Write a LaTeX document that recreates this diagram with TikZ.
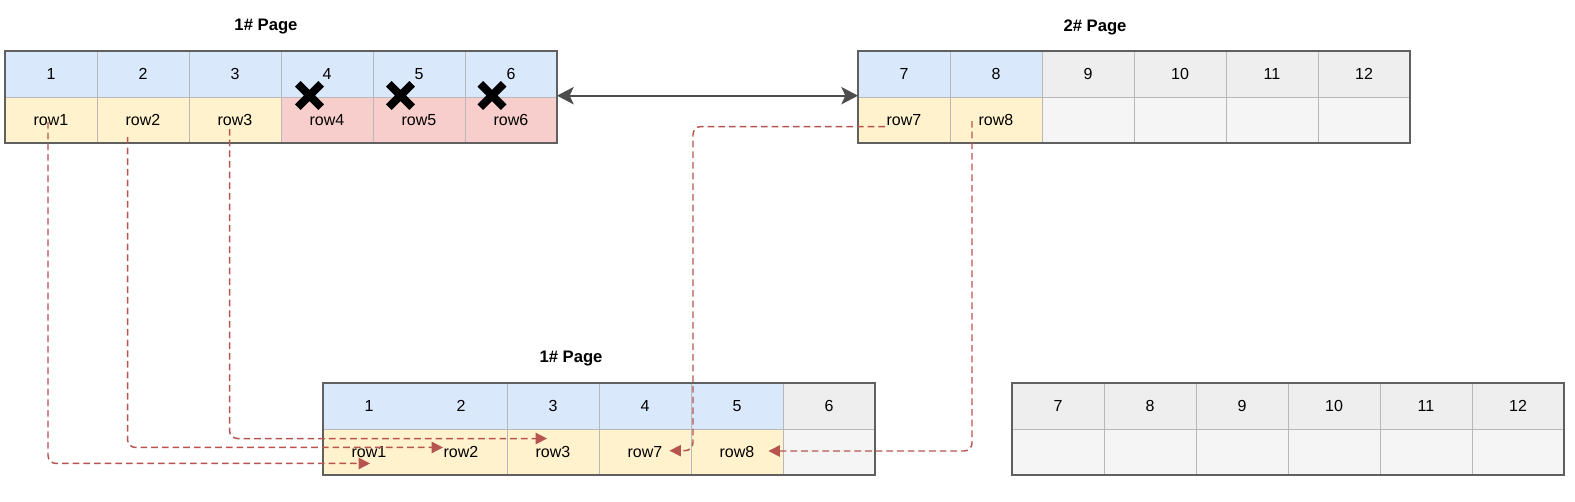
\documentclass[tikz,border=0pt]{standalone}
\usepackage{fontspec}
\setmainfont{Liberation Sans}
\usepackage{xcolor}
\usetikzlibrary{positioning,arrows.meta,shapes.misc}

\definecolor{hdrblue}{HTML}{DAE8FC}
\definecolor{rowyellow}{HTML}{FFF2CC}
\definecolor{rowred}{HTML}{F8CECC}
\definecolor{hdrgray}{HTML}{EEEEEE}
\definecolor{rowgray}{HTML}{F5F5F5}
\definecolor{gridline}{HTML}{B8B8B8}
\definecolor{frameline}{HTML}{606060}
\definecolor{moveline}{HTML}{B85450}
\definecolor{linkline}{HTML}{4D4D4D}

\tikzset{
    cell/.style={draw=gridline, line width=0.75pt, minimum width=69pt, minimum height=34.5pt,
        inner sep=0pt, outer sep=0pt, font=\fontsize{12}{14}\selectfont},
    pagetitle/.style={font=\bfseries\fontsize{12.5}{14}\selectfont},
    frame/.style={draw=frameline, line width=1pt},
    move/.style={draw=moveline, line width=1.1pt, dash pattern=on 5pt off 3pt,
        rounded corners=6pt, -{Triangle[length=8.5pt,width=8.5pt]}},
    link/.style={draw=linkline, line width=1.6pt,
        {Stealth[length=12.5pt,width=13pt,inset=3pt]}-{Stealth[length=12.5pt,width=13pt,inset=3pt]}},
    xmark/.style={cross out, draw=black, line width=6pt, minimum size=11.5pt, inner sep=0pt}
}

\begin{document}
\begin{tikzpicture}[x=0.75pt, y=-0.75pt]
    \useasboundingbox (0,0) rectangle (1575,501);

    % Page titles
    \node[pagetitle] (titleA) at (266,27) {1\# Page};
    \node[pagetitle] (titleB) at (1095,27) {2\# Page};
    \node[pagetitle] (titleC) at (571,359) {1\# Page};

    % 1# Page before the delete
    \foreach \i/\f in {1/rowyellow,2/rowyellow,3/rowyellow,4/rowred,5/rowred,6/rowred} {
        \node[cell, fill=hdrblue] (pgAh\i) at ({92*\i-41},74) {\i};
        \node[cell, fill=\f] (pgAr\i) at ({92*\i-41},120) {row\i};
    }
    \draw[frame] (pgAh1.north west) rectangle (pgAr6.south east);

    % 2# Page
    \foreach \i in {7,8} {
        \node[cell, fill=hdrblue] (pgBh\i) at ({92*\i+260},74) {\i};
        \node[cell, fill=rowyellow] (pgBr\i) at ({92*\i+260},120) {row\i};
    }
    \foreach \i in {9,...,12} {
        \node[cell, fill=hdrgray] (pgBh\i) at ({92*\i+260},74) {\i};
        \node[cell, fill=rowgray] (pgBr\i) at ({92*\i+260},120) {};
    }
    \draw[frame] (pgBh7.north west) rectangle (pgBr12.south east);

    % 1# Page after the merge
    \foreach \i/\t in {1/row1,2/row2} {
        \node[cell, draw=none, fill=hdrblue] (newAh\i) at ({92*\i+277},406) {\i};
        \node[cell, draw=none, fill=rowyellow] (newAr\i) at ({92*\i+277},452) {\t};
    }
    \foreach \i/\t in {3/row3,4/row7,5/row8} {
        \node[cell, fill=hdrblue] (newAh\i) at ({92*\i+277},406) {\i};
        \node[cell, fill=rowyellow] (newAr\i) at ({92*\i+277},452) {\t};
    }
    \node[cell, fill=hdrgray] (newAh6) at (829,406) {6};
    \node[cell, fill=rowgray] (newAr6) at (829,452) {};
    \draw[gridline, line width=0.75pt] (newAh1.south west) -- (newAh2.south east);
    \draw[frame] (newAh1.north west) rectangle (newAr6.south east);

    % emptied page
    \foreach \i in {7,...,12} {
        \node[cell, fill=hdrgray] (newBh\i) at ({92*\i+414},406) {\i};
        \node[cell, fill=rowgray] (newBr\i) at ({92*\i+414},452) {};
    }
    \draw[frame] (newBh7.north west) rectangle (newBr12.south east);

    % Link between the two pages
    \draw[link] ([yshift=1pt]pgAh6.south east) -- ([yshift=1pt]pgBh7.south west);

    % Moved rows
    \coordinate (out1) at ([xshift=-2.25pt,yshift=-1.5pt]pgAr1.center);
    \coordinate (in1) at ([xshift=0.75pt,yshift=-8.6pt]newAr1.center);
    \coordinate (out2) at ([xshift=-11.6pt,yshift=-12.75pt]pgAr2.center);
    \coordinate (in2) at ([xshift=-13.5pt,yshift=3.4pt]newAr2.center);
    \coordinate (out3) at ([xshift=-4.1pt,yshift=-6.75pt]pgAr3.center);
    \coordinate (in3) at ([xshift=-4.5pt,yshift=10.1pt]newAr3.center);
    \coordinate (out7) at ([xshift=-14.25pt,yshift=-4.9pt]pgBr7.center);
    \coordinate (in7) at ([xshift=18.4pt,yshift=1pt]newAr4.center);
    \coordinate (turn7) at (693,300);
    \coordinate (out8) at ([xshift=-18pt,yshift=-0.75pt]pgBr8.center);
    \coordinate (in8) at ([xshift=23.6pt,yshift=0.75pt]newAr5.center);

    \draw[move] (out1) |- (in1);
    \draw[move] (out2) |- (in2);
    \draw[move] (out3) |- (in3);
    \draw[move] (out7) -- (out7 -| turn7) -- (turn7 |- in7) -- (in7);
    \draw[move] (out8) |- (in8);

    % Deleted rows
    \node[xmark] (del4) at (309.5,95.5) {};
    \node[xmark] (del5) at (400.5,95.5) {};
    \node[xmark] (del6) at (492,95.5) {};
\end{tikzpicture}
\end{document}
